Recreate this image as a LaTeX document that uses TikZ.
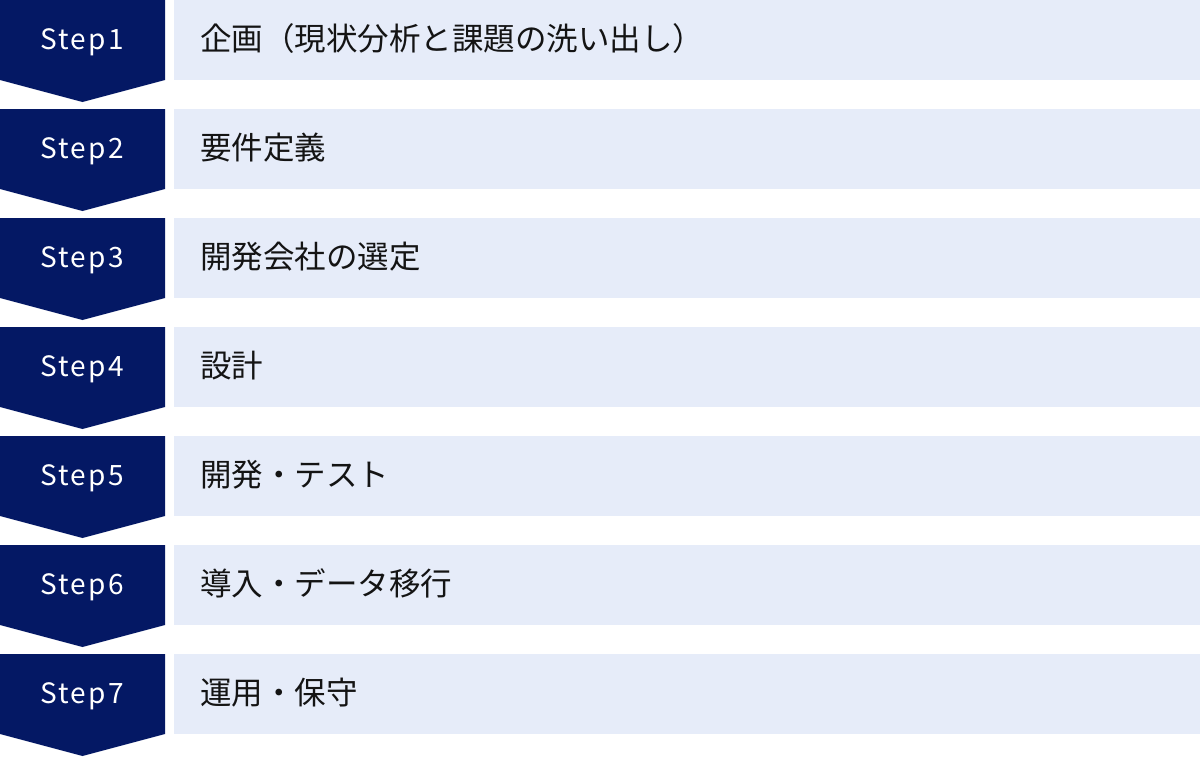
\documentclass[tikz,border=0pt]{standalone}
\usepackage{fontspec}
\newfontfamily\jpfont{Noto Sans CJK JP}
\newfontfamily\stepfont[LetterSpace=8]{Noto Sans CJK JP}
\definecolor{navy}{RGB}{4,24,100}
\definecolor{lightbg}{RGB}{230,236,249}
\definecolor{txt}{RGB}{20,20,20}
\begin{document}
\begin{tikzpicture}[x=1pt,y=-1pt,
  chevron/.style={fill=navy},
  steplabel/.style={text=white,font=\stepfont\fontsize{28}{28}\selectfont,inner sep=0pt,anchor=base},
  lightbox/.style={fill=lightbg,draw=none,anchor=north west,minimum width=1026pt,minimum height=80pt,inner sep=0pt,outer sep=0pt},
  desc/.style={text=txt,font=\jpfont\fontsize{31.5}{31.5}\selectfont,inner sep=0pt,anchor=base west}]
\useasboundingbox (0,0) rectangle (1200,756);
\foreach \i/\t in {1/{企画（現状分析と課題の洗い出し）},2/{要件定義},3/{開発会社の選定},4/{設計},5/{開発・テスト},6/{導入・データ移行},7/{運用・保守}}{
  \pgfmathsetmacro{\top}{(\i-1)*109}
  \fill[chevron] (0,\top) -- (165,\top) -- (165,\top+80) -- (82.5,\top+102) -- (0,\top+80) -- cycle;
  \node[steplabel] (s\i) at (82,\top+49.5) {Step\i};
  \node[lightbox] (b\i) at (174,\top) {};
  \node[desc] (d\i) at (200,\top+50.6) {\t};
}
\end{tikzpicture}
\end{document}
